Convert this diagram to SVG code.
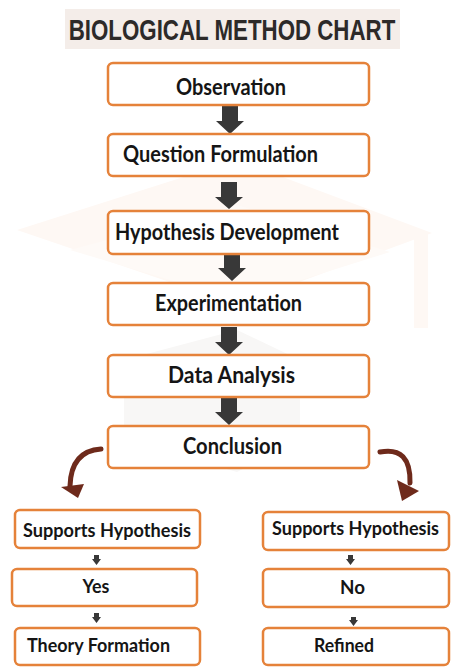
<svg xmlns="http://www.w3.org/2000/svg" width="474" height="669" viewBox="0 0 474 669">
<style>
.box{fill:#fff;stroke:#E5823A;stroke-width:2.5}
.t{font-family:Lato,"Liberation Sans",Arial,sans-serif;font-weight:700;fill:#151515;text-anchor:middle}
.m{font-size:22px}
.s{font-size:18.5px}
.arr{fill:#383838}
.curve{fill:none;stroke:#6E2A1B;stroke-width:5;stroke-linecap:round}
.head{fill:#6E2A1B}
</style>
<rect width="474" height="669" fill="#fff"/>
<g id="watermark">
<polygon points="17,230 237,160 432,233 237,305" fill="#FEF8F4"/>
<polygon points="70,250 237,205 390,252 237,300" fill="#FEFAF7"/>
<rect x="414" y="233" width="14" height="95" fill="#FEF8F4"/>
<polygon points="237,330 300,360 300,440 237,472 124,440 124,360" fill="#F8F7F6"/>
</g>
<g id="title">
<rect x="65" y="9" width="335" height="40" fill="#F4EDE9"/>
<text transform="translate(232,40) scale(1,1.3)" x="0" y="0" font-family="'Liberation Sans',Arial,sans-serif" font-weight="700" font-size="22.3" fill="#2D2A29" text-anchor="middle">BIOLOGICAL METHOD CHART</text>
</g>
<g id="connectors">
<polygon class="arr" points="222,106 238,106 238,121 244,121 230,134 216,121 222,121"/>
<polygon class="arr" points="221,182 237,182 237,197 243,197 229,209 215,197 221,197"/>
<polygon class="arr" points="224,255 240,255 240,268 246,268 232,281 218,268 224,268"/>
<polygon class="arr" points="221,327 237,327 237,342 243,342 229,355 215,342 221,342"/>
<polygon class="arr" points="221,398 237,398 237,412 243,412 229,425 215,412 221,412"/>
<polygon class="arr" points="94,555 99,555 99,559 101,559 96.5,565 92,559 94,559"/>
<polygon class="arr" points="94,613 99,613 99,617 101,617 96.5,623 92,617 94,617"/>
<polygon class="arr" points="348,555 353,555 353,559 355,559 350.5,565 346,559 348,559"/>
<polygon class="arr" points="351,617 356,617 356,620 358,620 353.5,626 349,620 351,620"/>
<path class="curve" d="M101,449 Q71,451 70,486"/>
<polygon class="head" points="61,487 84,484 78,498"/>
<path class="curve" d="M380,452 Q411,446 410,483"/>
<polygon class="head" points="397,480 419,491 402,501"/>
</g>
<g id="observation"><rect class="box" x="108" y="63" width="261" height="42" rx="5"/><text class="t m" x="231" y="95" textLength="110" lengthAdjust="spacingAndGlyphs">Observation</text></g>
<g id="question"><rect class="box" x="108" y="134" width="261" height="42" rx="5"/><text class="t m" x="220.5" y="162" textLength="195" lengthAdjust="spacingAndGlyphs">Question Formulation</text></g>
<g id="hypothesis"><rect class="box" x="108" y="211" width="261" height="43" rx="5"/><text class="t m" x="227" y="240" textLength="224" lengthAdjust="spacingAndGlyphs">Hypothesis Development</text></g>
<g id="experimentation"><rect class="box" x="108" y="283" width="261" height="42" rx="5"/><text class="t m" x="228.5" y="311" textLength="147" lengthAdjust="spacingAndGlyphs">Experimentation</text></g>
<g id="analysis"><rect class="box" x="108" y="355" width="261" height="42" rx="5"/><text class="t m" x="231.5" y="383" textLength="127" lengthAdjust="spacingAndGlyphs">Data Analysis</text></g>
<g id="conclusion"><rect class="box" x="108" y="426" width="261" height="42" rx="5"/><text class="t m" x="232.5" y="454" textLength="99" lengthAdjust="spacingAndGlyphs">Conclusion</text></g>
<g id="supports-left"><rect class="box" x="15" y="510" width="185" height="38" rx="5"/><text class="t s" x="107" y="537" textLength="168" lengthAdjust="spacingAndGlyphs">Supports Hypothesis</text></g>
<g id="yes"><rect class="box" x="12" y="569" width="185" height="37" rx="5"/><text class="t s" x="96" y="593" textLength="27" lengthAdjust="spacingAndGlyphs">Yes</text></g>
<g id="theory"><rect class="box" x="15" y="628" width="185" height="37" rx="5"/><text class="t s" x="98.5" y="652" textLength="143" lengthAdjust="spacingAndGlyphs">Theory Formation</text></g>
<g id="supports-right"><rect class="box" x="263" y="512" width="186" height="38" rx="5"/><text class="t s" x="355.5" y="535" textLength="167" lengthAdjust="spacingAndGlyphs">Supports Hypothesis</text></g>
<g id="no"><rect class="box" x="263" y="569" width="186" height="38" rx="5"/><text class="t s" x="352.5" y="594" textLength="25" lengthAdjust="spacingAndGlyphs">No</text></g>
<g id="refined"><rect class="box" x="263" y="628" width="186" height="37" rx="5"/><text class="t s" x="344" y="652" textLength="60" lengthAdjust="spacingAndGlyphs">Refined</text></g>
</svg>
